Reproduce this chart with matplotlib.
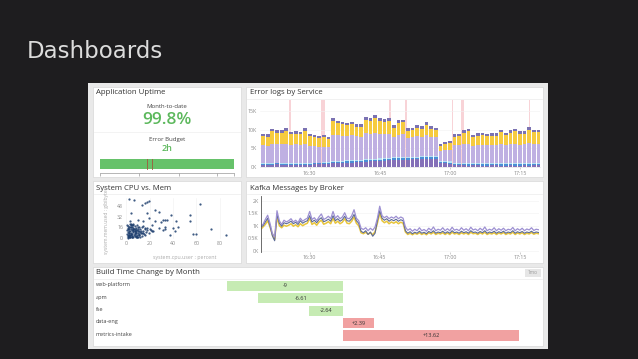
import numpy as np
import matplotlib
matplotlib.use("Agg")
import matplotlib.pyplot as plt
from matplotlib.patches import Rectangle
from matplotlib.lines import Line2D
import matplotlib.transforms as mtransforms

W, H = 638, 359
plt.rcParams['font.family'] = ['Open Sans', 'DejaVu Sans']

# ---------------- data ----------------
uptime_value = "99.8%"
budget_value = "2h"
budget_ticks = [0, 0.293, 0.587, 0.875, 1.0]
budget_marks = [0.349, 0.390]

# error logs, one stacked bar per minute (16:20 .. 17:19), values in K
bar_minutes = np.arange(20, 80)
err_base = [0.5, 0.5, 0.5, 0.6, 0.5, 0.5, 0.5, 0.5, 0.4, 0.5, 0.5, 0.6, 0.6, 0.7, 0.7,
            0.9, 1.0, 1.0, 1.1, 1.1, 1.2, 1.2, 1.3, 1.4, 1.4, 1.5, 1.6, 1.7, 1.8, 1.9, 1.9,
            1.9, 2.0, 2.0, 2.1, 2.1, 2.1, 2.1,
            0.9, 0.9, 0.8,
            0.5, 0.4, 0.4, 0.3, 0.4, 0.4, 0.3, 0.3, 0.4, 0.4, 0.3, 0.3, 0.4, 0.3, 0.3, 0.4,
            0.3, 0.4, 0.5]
err_blue = [0.3, 0.3, 0.3, 0.3, 0.3, 0.3, 0.3, 0.3, 0.3, 0.3, 0.3, 0.3, 0.3, 0.3, 0.3,
            0.3, 0.3, 0.3, 0.3, 0.3, 0.3, 0.3, 0.4, 0.4, 0.4, 0.4, 0.4, 0.4, 0.4, 0.4, 0.4,
            0.4, 0.4, 0.4, 0.4, 0.4, 0.4, 0.4,
            0.3, 0.3, 0.3,
            0.3, 0.3, 0.3, 0.3, 0.3, 0.3, 0.3, 0.3, 0.3, 0.3, 0.3, 0.3, 0.3, 0.3, 0.3, 0.3,
            0.3, 0.3, 0.3]
err_cyan = [0.2, 0.2, 0.2, 0.2, 0.2, 0.2, 0.2, 0.2, 0.2, 0.2, 0.2, 0.2, 0.2, 0.2, 0.2,
            0.3, 0.3, 0.3, 0.3, 0.3, 0.3, 0.3, 0.3, 0.3, 0.3, 0.3, 0.3, 0.3, 0.3, 0.3, 0.3,
            0.3, 0.3, 0.3, 0.3, 0.3, 0.3, 0.3,
            0.3, 0.3, 0.3,
            0.3, 0.3, 0.3, 0.3, 0.3, 0.3, 0.3, 0.3, 0.3, 0.3, 0.3, 0.3, 0.3, 0.3, 0.3, 0.3,
            0.3, 0.3, 0.3]
err_lavender = [4.8, 4.7, 5.1, 5.1, 5.1, 5.1, 4.9, 5.0, 5.0, 5.2, 4.7, 4.4, 4.3, 4.2, 4.1,
                7.1, 6.9, 6.8, 6.7, 6.8, 6.4, 6.3, 7.0, 6.8, 7.0, 6.7, 6.5, 6.5, 5.5, 6.0, 6.1,
                5.2, 5.2, 5.6, 5.3, 5.8, 5.2, 5.1,
                2.8, 3.0, 3.2,
                4.7, 4.9, 5.1, 5.3, 4.7, 4.8, 5.0, 4.9, 4.8, 4.8, 5.2, 5.0, 5.0, 5.3, 5.0, 5.0,
                5.4, 5.1, 4.9]
err_yellow = [2.5, 2.4, 3.4, 3.0, 3.1, 3.5, 2.8, 2.9, 2.9, 3.4, 2.6, 2.5, 2.2, 2.5, 2.1,
              3.7, 3.2, 3.0, 2.8, 2.9, 2.5, 2.6, 3.7, 3.4, 4.1, 3.4, 3.3, 3.4, 2.5, 3.3, 3.3,
              1.8, 1.9, 2.2, 2.1, 2.7, 2.2, 1.9,
              1.3, 1.5, 1.7,
              2.3, 2.4, 3.1, 3.4, 2.3, 2.6, 2.7, 2.5, 2.6, 2.6, 3.3, 2.6, 3.2, 3.3, 3.0, 2.9,
              3.7, 3.3, 3.4]
err_cap = [0.6, 0.6, 0.7, 0.6, 0.6, 0.7, 0.6, 0.6, 0.6, 0.7, 0.6, 0.6, 0.6, 0.6, 0.6,
           0.7, 0.7, 0.7, 0.7, 0.7, 0.7, 0.7, 0.7, 0.7, 0.7, 0.7, 0.7, 0.7, 0.7, 0.7, 0.7,
           0.7, 0.7, 0.7, 0.7, 0.7, 0.7, 0.7,
           0.6, 0.6, 0.6,
           0.6, 0.6, 0.6, 0.6, 0.6, 0.6, 0.6, 0.6, 0.6, 0.6, 0.6, 0.6, 0.6, 0.6, 0.6, 0.6,
           0.6, 0.6, 0.6]
err_events = [(25.6, 25.9), (32.4, 33.2), (47.0, 47.3), (50.5, 50.8),
              (60.4, 60.7), (62.4, 63.1), (76.9, 77.2)]

# kafka messages, one point every 30s from 16:19:30, values in K
kafka_t = 19.5 + 0.5 * np.arange(120)
kafka_purple = [1.00, 1.05, 1.25, 1.42, 1.10, 0.70, 0.55, 1.60, 1.20, 1.05,
                1.22, 1.15, 1.20, 1.28, 1.15, 1.22, 1.12, 1.30, 1.18, 1.25,
                1.30, 1.57, 1.25, 1.32, 1.20, 1.35, 1.47, 1.25, 1.30, 1.38,
                1.28, 1.57, 1.30, 1.40, 1.28, 1.35, 1.52, 1.30, 1.28, 1.40,
                1.64, 1.30, 1.20, 0.90, 0.85, 0.92, 0.80, 0.90, 0.82, 0.95,
                1.30, 1.78, 1.40, 1.32, 1.38, 1.28, 1.35, 1.30, 1.38, 1.28,
                1.35, 1.30, 0.95, 0.82, 0.88, 0.78, 0.86, 0.80, 0.92, 0.80,
                0.85, 0.78, 0.90, 0.82, 0.95, 0.80, 0.86, 0.82, 0.92, 0.80,
                0.88, 0.80, 0.94, 0.82, 0.86, 0.80, 0.92, 0.82, 0.88, 0.80,
                0.94, 0.83, 0.87, 0.80, 0.90, 0.82, 0.95, 0.80, 0.86, 0.82,
                0.92, 0.80, 0.88, 0.82, 0.90, 0.80, 0.86, 0.83, 0.93, 0.80,
                0.88, 0.82, 0.90, 0.80, 0.87, 0.83, 0.92, 0.81, 0.86, 0.84]
kafka_slate = [0.95, 1.00, 1.15, 1.30, 1.00, 0.60, 0.40, 1.45, 1.10, 0.98,
               1.12, 1.08, 1.12, 1.18, 1.08, 1.14, 1.05, 1.20, 1.10, 1.16,
               1.20, 1.40, 1.15, 1.22, 1.12, 1.25, 1.32, 1.16, 1.20, 1.26,
               1.18, 1.40, 1.20, 1.28, 1.18, 1.24, 1.38, 1.20, 1.18, 1.28,
               1.45, 1.20, 1.10, 0.78, 0.72, 0.80, 0.65, 0.75, 0.58, 0.70,
               1.20, 1.60, 1.30, 1.22, 1.28, 1.18, 1.25, 1.20, 1.26, 1.18,
               1.24, 1.20, 0.80, 0.70, 0.76, 0.68, 0.74, 0.70, 0.78, 0.70,
               0.74, 0.68, 0.77, 0.72, 0.80, 0.70, 0.75, 0.72, 0.78, 0.70,
               0.76, 0.70, 0.80, 0.72, 0.75, 0.70, 0.78, 0.72, 0.76, 0.70,
               0.80, 0.73, 0.75, 0.70, 0.77, 0.72, 0.80, 0.70, 0.75, 0.72,
               0.78, 0.70, 0.76, 0.72, 0.78, 0.70, 0.75, 0.72, 0.80, 0.70,
               0.76, 0.72, 0.77, 0.70, 0.75, 0.72, 0.78, 0.71, 0.75, 0.73]
kafka_yellow = [0.85, 0.95, 1.05, 1.20, 0.95, 0.65, 0.45, 1.35, 1.00, 0.92,
                1.02, 0.98, 1.02, 1.08, 0.98, 1.04, 0.96, 1.08, 1.00, 1.06,
                1.10, 1.30, 1.05, 1.12, 1.02, 1.15, 1.22, 1.06, 1.10, 1.16,
                1.08, 1.30, 1.10, 1.18, 1.08, 1.14, 1.28, 1.10, 1.08, 1.18,
                1.35, 1.10, 1.00, 0.72, 0.68, 0.74, 0.66, 0.72, 0.64, 0.76,
                1.10, 1.50, 1.20, 1.12, 1.18, 1.08, 1.15, 1.10, 1.16, 1.08,
                1.14, 1.10, 0.75, 0.65, 0.70, 0.64, 0.70, 0.66, 0.72, 0.65,
                0.70, 0.64, 0.72, 0.67, 0.74, 0.65, 0.70, 0.67, 0.72, 0.65,
                0.71, 0.65, 0.74, 0.67, 0.70, 0.65, 0.72, 0.67, 0.71, 0.65,
                0.74, 0.68, 0.70, 0.65, 0.72, 0.67, 0.74, 0.65, 0.70, 0.67,
                0.72, 0.65, 0.71, 0.67, 0.73, 0.65, 0.70, 0.67, 0.74, 0.65,
                0.71, 0.67, 0.72, 0.65, 0.70, 0.67, 0.73, 0.66, 0.70, 0.68]

# system cpu (percent) vs mem (GiB)
cpu_user = [2.0, 6.3, 12.9, 16.3, 18.0, 19.4, 24.3, 28.0, 18.0, 62.9, 54.3, 54.9,
            38.6, 33.4, 31.4, 35.1, 29.4, 42.3, 19.4, 14.3, 24.3, 40.0, 33.4, 31.4,
            27.7, 32.9, 22.3, 22.9, 20.9, 41.4, 44.3, 57.1, 60.0, 72.3, 85.7, 37.1,
            4.3, 10.0, 2.9,
            1, 2, 3, 4, 5, 6, 7, 8, 9, 10, 11, 12, 2, 3, 5, 6, 8, 1, 4, 7, 10, 12,
            14, 15, 13, 1, 2, 3, 5, 6, 9, 11, 13, 16, 17, 18, 3, 6, 9, 0.5, 1.5, 4,
            7, 10, 14, 16, 19, 8, 2, 5,
            0.5, 1.5, 2.5, 3.5, 4.5, 5.5, 6.5, 7.5, 8.5, 9.5, 10.5, 11.5, 12.5, 1, 2,
            3, 4, 6, 7, 8, 9, 11, 0.5, 2.5, 4.5, 6.5, 8.5, 10.5, 12.5, 14.5, 1.5, 3.5,
            5.5, 7.5, 9.5, 13.5, 15.5, 17.5, 20.5, 22, 3, 5, 7, 9, 1, 2, 4, 6]
mem_used = [59.0, 58.0, 50.5, 52.5, 54.5, 55.5, 43.0, 39.0, 38.0, 52.0, 35.4, 25.3,
            34.3, 27.8, 26.8, 27.8, 24.2, 25.3, 30.3, 25.3, 25.3, 15.2, 13.6, 12.6,
            15.2, 16.2, 20.2, 10.1, 12.6, 10.1, 16.2, 6.0, 6.0, 14.1, 5.0, 5.0,
            37.9, 27.8, 25.3,
            2, 5, 1, 8, 3, 10, 6, 2, 12, 7, 4, 9, 14, 11, 16, 13, 15, 18, 20, 18, 16, 14,
            11, 6, 3, 9, 7, 17, 6, 1, 5, 10, 17, 13, 9, 15, 22, 21, 20, 12, 0.5, 4,
            11, 1, 18, 4, 7, 9, 3, 19,
            6, 3, 8, 13, 1, 9, 4, 11, 3, 13, 6, 2, 11, 15, 10, 4, 17, 15, 8, 12, 2, 17,
            20, 17, 12, 14, 7, 5, 7, 8, 14, 6, 12, 3, 10, 8, 15, 12, 14, 10, 1, 2, 13,
            1, 4, 1, 22, 19]

# build time change by month
build_teams = ["web-platform", "apm", "fse", "data-eng", "metrics-intake"]
build_change = [-9.0, -6.61, -2.64, 2.39, 13.62]
build_labels = ["-9", "-6.61", "-2.64", "+2.39", "+13.62"]

# ---------------- layout helpers ----------------
fig = plt.figure(figsize=(W / 100, H / 100), dpi=100, facecolor='#1e1d1f')


def fig_rect(x0, y0, x1, y1):
    return [x0 / W, 1 - y1 / H, (x1 - x0) / W, (y1 - y0) / H]


def add_box(x0, y0, x1, y1, fc, ec='none', lw=0, z=-2):
    fig.patches.append(Rectangle((x0 / W, 1 - y1 / H), (x1 - x0) / W, (y1 - y0) / H,
                                 transform=fig.transFigure, facecolor=fc,
                                 edgecolor=ec, linewidth=lw, zorder=z))


def hline(x0, x1, y, color='#ececec', lw=0.5):
    fig.add_artist(Line2D([x0 / W, x1 / W], [1 - y / H, 1 - y / H],
                          transform=fig.transFigure, color=color, lw=lw, zorder=-1))


def ftext(x, y, s, **kw):
    fig.text(x / W, 1 - y / H, s, **kw)


# slide title
ftext(27, 52, "Dashboards", fontsize=16.5, color='#dcdcdc', va='center', ha='left',
      family='DejaVu Sans')

# dashboard background and panels
add_box(88, 83, 548, 349, '#e9e9e9', z=-3)
panels = [(93, 87, 241, 177), (246, 87, 543, 177), (93, 181, 241, 263),
          (246, 181, 543, 263), (93, 267, 543, 346)]
for p in panels:
    add_box(*p, '#ffffff', ec='#d8d8d8', lw=0.5)

title_kw = dict(fontsize=5.6, color='#333333', va='center', ha='left')
ftext(96, 93, "Application Uptime", **title_kw)
ftext(250, 93, "Error logs by Service", **title_kw)
ftext(96, 188, "System CPU vs. Mem", **title_kw)
ftext(250, 188, "Kafka Messages by Broker", **title_kw)
ftext(96, 273, "Build Time Change by Month", **title_kw)
hline(247, 542, 99)
hline(247, 542, 194)
hline(94, 240, 194)
hline(94, 542, 279)

# ---------------- application uptime ----------------
green = '#5cb85c'
ftext(167, 106, "Month-to-date", fontsize=4.3, color='#444444', ha='center', va='center')
ftext(167, 120, uptime_value, fontsize=12.5, color=green, ha='center', va='center',
      fontweight='semibold')
hline(94, 240, 132, color='#eeeeee')
ftext(167, 140, "Error Budget", fontsize=4.3, color='#444444', ha='center', va='center')
ftext(167, 149, budget_value, fontsize=6.5, color=green, ha='center', va='center',
      fontweight='semibold')

axb = fig.add_axes(fig_rect(100, 159, 234, 173.3), facecolor='none')
axb.barh([0], [1.0], height=1.0, left=0, color='#66c26a', align='edge')
for m in budget_marks:
    axb.plot([m, m], [0, 1.0], color='#a0583c', lw=0.6)
axb.set_xlim(0, 1)
axb.set_ylim(-0.39, 1.0)
for s in ['top', 'left', 'right']:
    axb.spines[s].set_visible(False)
axb.spines['bottom'].set_color('#999999')
axb.spines['bottom'].set_linewidth(0.5)
axb.set_yticks([])
axb.set_xticks(budget_ticks)
axb.set_xticklabels([])
axb.tick_params(axis='x', length=2.5, width=0.5, color='#999999')

# ---------------- error logs by service ----------------
ax = fig.add_axes(fig_rect(259.5, 99.9, 540, 167.4), facecolor='none')
for a, b in err_events:
    ax.axvspan(a, b, color='#f8d3d7', lw=0, zorder=0)
stack = [(err_base, '#8470b8'), (err_blue, '#4b8fd6'), (err_cyan, '#b6e0f2'),
         (err_lavender, '#bfb0e2'), (err_yellow, '#f6cb3f'), (err_cap, '#7b72b2')]
bottom = np.zeros(len(bar_minutes))
for vals, col in stack:
    ax.bar(bar_minutes, vals, width=0.8, bottom=bottom, color=col, lw=0, zorder=2)
    bottom = bottom + np.array(vals)
ax.set_xlim(19.25, 79.3)
ax.set_ylim(-0.2, 18)
ax.set_yticks([0, 5, 10, 15])
ax.set_yticklabels(["0K", "5K", "10K", "15K"])
ax.set_xticks([30, 45, 60, 75])
ax.set_xticklabels(["16:30", "16:45", "17:00", "17:15"])
ax.tick_params(axis='y', length=0, labelsize=3.8, labelcolor='#888888', pad=2)
ax.tick_params(axis='x', length=1.5, width=0.4, color='#aaaaaa', labelsize=3.8,
               labelcolor='#888888', pad=1)
ax.grid(axis='y', color='#f2f2f2', lw=0.4, zorder=0)
for s in ['top', 'left', 'right']:
    ax.spines[s].set_visible(False)
ax.spines['bottom'].set_color('#dddddd')
ax.spines['bottom'].set_linewidth(0.4)

# ---------------- system cpu vs mem ----------------
axs = fig.add_axes(fig_rect(125.3, 198.4, 233.7, 238.7), facecolor='none')
axs.scatter(cpu_user, mem_used, s=2.6, color='#1d3e6e', lw=0, alpha=0.85)
axs.set_xlim(-1, 92)
axs.set_ylim(-1, 60)
axs.set_xticks([0, 20, 40, 60, 80])
axs.set_yticks([0, 16, 32, 48])
axs.grid(axis='x', color='#f0f0f0', lw=0.4)
axs.set_axisbelow(True)
axs.tick_params(length=0, labelsize=3.8, labelcolor='#888888', pad=1.5)
for s in axs.spines.values():
    s.set_visible(False)
ftext(185, 258, "system.cpu.user : percent", fontsize=3.8, color='#aaaaaa',
      ha='center', va='center')
ftext(107, 220, "system.mem.used : gibibytes", fontsize=3.6, color='#aaaaaa',
      ha='center', va='center', rotation=90)

# ---------------- kafka messages by broker ----------------
axk = fig.add_axes(fig_rect(261.3, 195.7, 538.5, 252), facecolor='none')
axk.plot(kafka_t, kafka_yellow, color='#e8c53c', lw=1.1)
axk.plot(kafka_t, kafka_slate, color='#5d6b96', lw=0.8)
axk.plot(kafka_t, kafka_purple, color='#9d90d2', lw=0.9)
axk.set_xlim(19.64, 79.0)
axk.set_ylim(-0.05, 2.2)
axk.set_yticks([0, 0.5, 1, 1.5, 2])
axk.set_yticklabels(["0K", "0.5K", "1K", "1.5K", "2K"])
axk.set_xticks([30, 45, 60, 75])
axk.set_xticklabels(["16:30", "16:45", "17:00", "17:15"])
axk.tick_params(axis='y', length=0, labelsize=3.8, labelcolor='#888888', pad=2)
axk.tick_params(axis='x', length=1.5, width=0.4, color='#aaaaaa', labelsize=3.8,
                labelcolor='#888888', pad=1)
axk.grid(axis='y', color='#f2f2f2', lw=0.4)
axk.set_axisbelow(True)
for s in ['top', 'right', 'bottom']:
    axk.spines[s].set_visible(False)
axk.spines['left'].set_color('#555555')
axk.spines['left'].set_linewidth(0.6)

# ---------------- build time change ----------------
axt = fig.add_axes(fig_rect(227.3, 279.8, 519, 341.7), facecolor='none')
rows = np.arange(len(build_teams))
cols = ['#c6ebb3' if v < 0 else '#f1a1a1' for v in build_change]
axt.barh(rows, build_change, height=0.81, color=cols, lw=0)
axt.set_xlim(-9.0, 13.62)
axt.set_ylim(4.5, -0.5)
axt.axis('off')
for i, v in enumerate(build_change):
    axt.text(v / 2, i, build_labels[i], ha='center', va='center', fontsize=4,
             color='#333333')
row_tr = mtransforms.blended_transform_factory(fig.transFigure, axt.transData)
for i, team in enumerate(build_teams):
    axt.text(96 / W, i - 0.1, team, transform=row_tr, ha='left', va='center',
             fontsize=4, color='#444444')
add_box(525, 268.5, 541, 276.5, '#e6e6e6', z=-1)
ftext(533, 272.5, "1mo", fontsize=3.4, color='#999999', ha='center', va='center')

fig.savefig("out.png", dpi=100, facecolor=fig.get_facecolor())
